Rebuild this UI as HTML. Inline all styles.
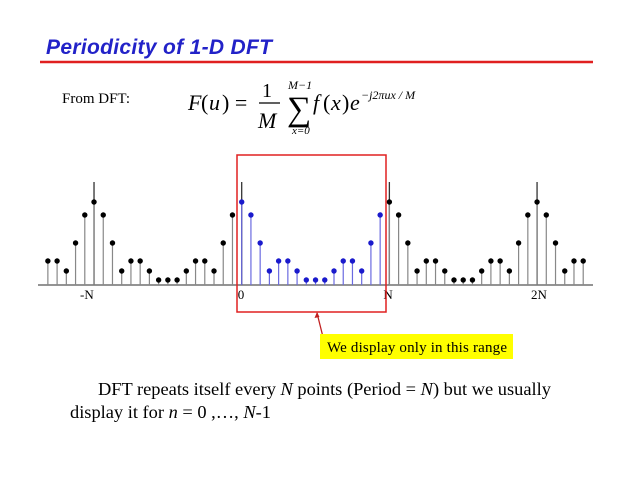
<!DOCTYPE html>
<html><head><meta charset="utf-8"><style>
body{margin:0;background:#fff}
svg{display:block}
.t{font-family:"Liberation Serif",serif}
</style></head><body>
<svg width="638" height="478" viewBox="0 0 638 478">
<text x="46" y="54" font-family="Liberation Sans,sans-serif" font-size="21" font-weight="bold" font-style="italic" fill="#2222c8" textLength="226">Periodicity of 1-D DFT</text>
<line x1="40" y1="62" x2="593" y2="62" stroke="#e02020" stroke-width="2.5"/>
<g class="t">
<text x="62" y="103" font-size="15" class="t">From DFT:</text>
<text x="188" y="110" font-size="22" font-style="italic" class="t">F</text>
<text x="201" y="110" font-size="22" class="t">(</text>
<text x="209" y="110" font-size="22" font-style="italic" class="t">u</text>
<text x="222" y="110" font-size="22" class="t">) =</text>
<text x="262" y="97" font-size="20" class="t">1</text>
<line x1="259" y1="103" x2="280" y2="103" stroke="#000" stroke-width="1.2"/>
<text x="258" y="128" font-size="22" font-style="italic" class="t">M</text>
<text x="287" y="120" font-size="34" class="t">∑</text>
<text x="288" y="89" font-size="12" font-style="italic" class="t">M−1</text>
<text x="292" y="134" font-size="11" font-style="italic" class="t">x=0</text>
<text x="313" y="110" font-size="22" font-style="italic" class="t">f</text>
<text x="323" y="110" font-size="22" class="t">(</text>
<text x="331" y="110" font-size="22" font-style="italic" class="t">x</text>
<text x="342" y="110" font-size="22" class="t">)</text>
<text x="350" y="110" font-size="22" font-style="italic" class="t">e</text>
<text x="361" y="99" font-size="12" font-style="italic" class="t">−j2πux / M</text>
</g>
<g id="chart"></g>
<rect x="237" y="155" width="149" height="157" fill="none" stroke="#e02020" stroke-width="1.5"/>
<line x1="317" y1="313" x2="323" y2="337" stroke="#c02020" stroke-width="1.3"/>
<polygon points="317,312 314.5,318 319.5,317" fill="#c02020"/>
<rect x="320" y="334" width="193" height="25" fill="#ffff00"/>
<text x="327" y="352" font-size="15" class="t" textLength="180">We display only in this range</text>
<text x="98" y="395" font-size="18.4" class="t">DFT repeats itself every <tspan font-style="italic">N</tspan> points (Period = <tspan font-style="italic">N</tspan>) but we usually</text>
<text x="70" y="418" font-size="18.4" class="t">display it for <tspan font-style="italic">n</tspan> = 0 ,…, <tspan font-style="italic">N</tspan>-1</text>
</svg>
<script>
const periodValues=[83,70,42,14,24,24,14,5,5,5,14,24,24,14,42,70];
const nStart=-21, nEnd=37, N=16;
const periodLabels=["-N","0","N","2N"];
const periodMarks=[-16,0,16,32];
const g=document.getElementById('chart');
const ns='http://www.w3.org/2000/svg';
const x0=241.7, dx=9.23, baseY=285;
const xs=n=>x0+n*dx, ys=v=>baseY-v;
function mk(t,a){const e=document.createElementNS(ns,t);for(const k in a)e.setAttribute(k,a[k]);g.appendChild(e);return e;}
const ax=mk('line',{x1:38,y1:baseY,x2:593,y2:baseY,stroke:'#555','stroke-width':1.3});


periodMarks.forEach((m,i)=>{
 const l=mk('line',{x1:xs(m),y1:182,x2:xs(m),y2:baseY,stroke:'#333','stroke-width':1.3});
 
 
 const t=mk('text',{x:xs(m)+(i==1?-4:i==0?-14:-6),y:299,'font-size':13,'font-family':'Liberation Serif,serif'});
 t.textContent=periodLabels[i];
 
 
});
for(let n=nStart;n<=nEnd;n++){
 const k=((n%N)+N)%N, v=periodValues[k], blue=(n>=0&&n<N);
 const c=blue?'#1a1acc':'#000', sc=blue?'#6a6ae0':'#888';
 const l=mk('line',{x1:xs(n),y1:ys(v),x2:xs(n),y2:baseY,stroke:sc,'stroke-width':1.2});
 
 
 const d=mk('circle',{cx:xs(n),cy:ys(v),r:2.7,fill:c});
 
 
}
</script>
</body></html>
